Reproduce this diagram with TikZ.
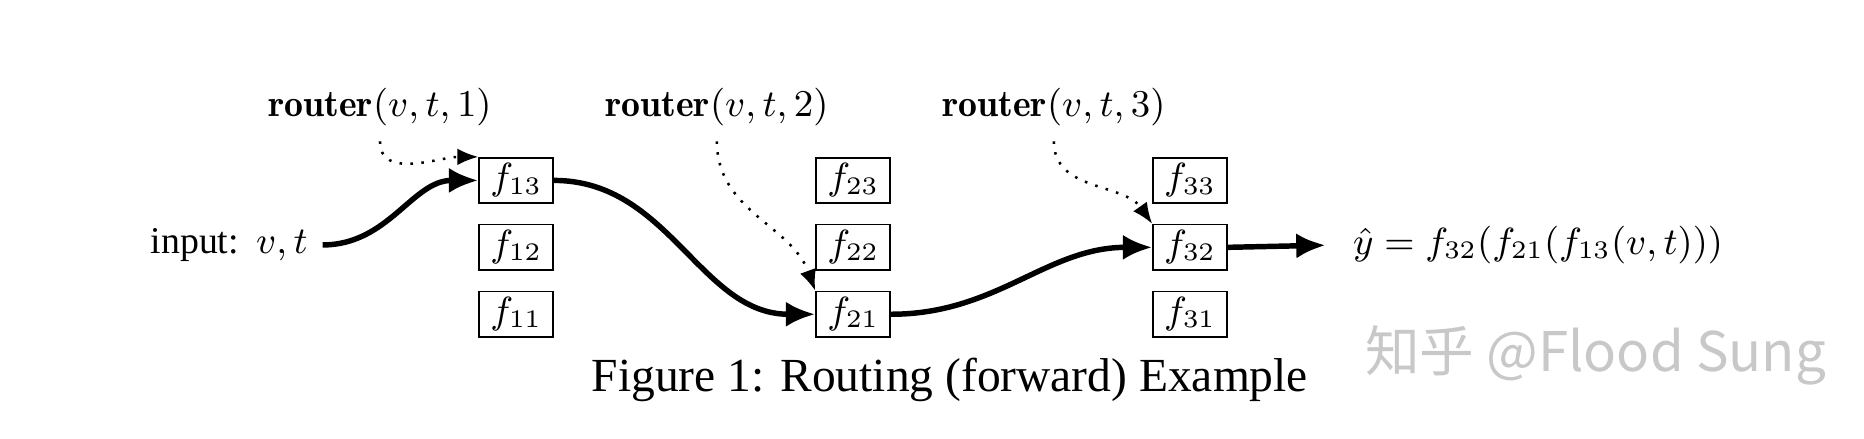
\documentclass[tikz,border=0pt]{standalone}
\usepackage{fontspec}
\usepackage{amsmath}
\newfontfamily\capfont{Liberation Serif}
\newfontfamily\cjk{Noto Sans CJK SC}
\usetikzlibrary{arrows.meta}
\definecolor{mark1}{RGB}{200, 200, 200}

\begin{document}
\begin{tikzpicture}[x=0.01cm, y=-0.01cm, font=\small,
  fbox/.style={draw, minimum width=0.62cm, minimum height=0.38cm, inner sep=0pt},
  route/.style={line width=1.3pt, -{Latex[length=7pt,width=6pt]}},
  pick/.style={dotted, line width=0.6pt, -{Latex[length=5pt,width=4pt]}}]
  \useasboundingbox (0,0) rectangle (1560,367);

  \node[fbox] (f13) at (432,151) {$f_{13}$};
  \node[fbox] (f12) at (432,207) {$f_{12}$};
  \node[fbox] (f11) at (432,263) {$f_{11}$};

  \node[fbox] (f23) at (714,151) {$f_{23}$};
  \node[fbox] (f22) at (714,207) {$f_{22}$};
  \node[fbox] (f21) at (714,263) {$f_{21}$};

  \node[fbox] (f33) at (996,151) {$f_{33}$};
  \node[fbox] (f32) at (996,207) {$f_{32}$};
  \node[fbox] (f31) at (996,263) {$f_{31}$};

  \node[anchor=east] (in) at (270,205) {{\capfont input:} $v,t$};
  \node[anchor=west] (out) at (1120,205) {$\hat{y} = f_{32}(f_{21}(f_{13}(v,t)))$};

  \node (r1) at (318,90) {$\mathbf{router}(v,t,1)$};
  \node (r2) at (600,90) {$\mathbf{router}(v,t,2)$};
  \node (r3) at (882,90) {$\mathbf{router}(v,t,3)$};

  \draw[route] (in.east) to[out=0, in=180] (f13.west);
  \draw[route] (f13.east) to[out=0, in=180] (f21.west);
  \draw[route] (f21.east) to[out=0, in=180] (f32.west);
  \draw[route, shorten >=3pt] (f32.east) -- (out.west);

  \draw[pick] (r1.south) to[out=-90, in=180] (f13.north west);
  \draw[pick] (r2.south) to[out=-90, in=110] (f21.north west);
  \draw[pick] (r3.south) to[out=-90, in=125] (f32.north west);

  \node (cap) at (795,318) {\capfont\fontsize{11.3}{14}\selectfont Figure 1: Routing (forward) Example};
  \node[text=mark1, anchor=west] (wm) at (1130,297) {\cjk\fontsize{13}{16}\selectfont 知乎 @Flood Sung};
\end{tikzpicture}
\end{document}
